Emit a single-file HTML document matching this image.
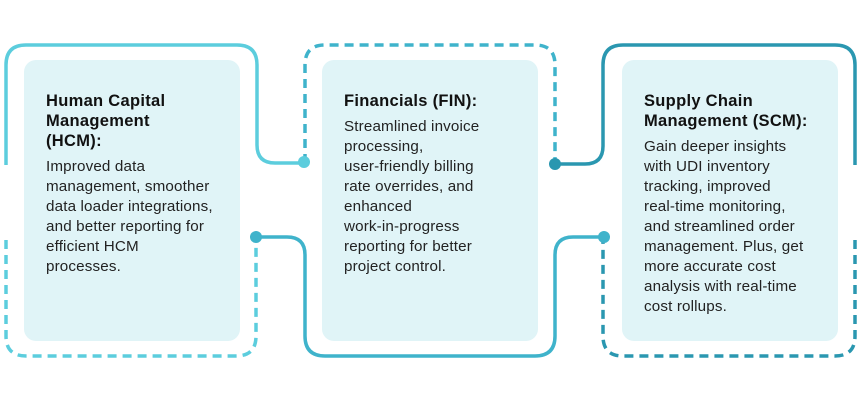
<!DOCTYPE html>
<html><head><meta charset="utf-8"><style>
body{margin:0;width:860px;height:401px;background:#fff;overflow:hidden;position:relative;font-family:"Liberation Sans",sans-serif;}
svg{position:absolute;left:0;top:0}
.box{position:absolute;top:60px;width:216px;height:281px;background:#e0f4f7;border-radius:12px;}
.t{position:absolute;left:22px;top:31px;width:200px;font-size:16.5px;font-weight:bold;line-height:20px;color:#111;white-space:nowrap;letter-spacing:0.3px;}
.b{font-size:15.2px;line-height:20px;font-weight:normal;color:#222;margin-top:6px;letter-spacing:0.15px;}
</style></head><body>
<svg width="860" height="401" fill="none" stroke-width="3.5">
<g stroke="#5ccddd">
<path d="M6 165 V65 Q6 45 26 45 H237 Q257 45 257 65 V145 Q257 163 275 163 H304"/>
<path d="M6 240 V336 Q6 356 26 356 H236 Q256 356 256 336 V237" stroke-dasharray="9 6"/>
</g>
<g stroke="#3fb3cb">
<path d="M305 163 V65 Q305 45 325 45 H535 Q555 45 555 65 V163" stroke-dasharray="9 6"/>
<path d="M256 237 H287 Q305 237 305 255 V336 Q305 356 325 356 H535 Q555 356 555 336 V255 Q555 237 573 237 H604"/>
</g>
<g stroke="#2a97b0">
<path d="M555 164 H585 Q603 164 603 146 V65 Q603 45 623 45 H835 Q855 45 855 65 V165"/>
<path d="M855 240 V336 Q855 356 835 356 H623 Q603 356 603 336 V237" stroke-dasharray="9 6"/>
</g>
<circle cx="304" cy="162" r="6" fill="#5ccddd"/>
<circle cx="256" cy="237" r="6" fill="#3fb3cb"/>
<circle cx="555" cy="164" r="6" fill="#2a97b0"/>
<circle cx="604" cy="237" r="6" fill="#3fb3cb"/>
</svg>
<div class="box" style="left:24px"><div class="t">Human Capital<br>Management<br>(HCM):<div class="b">Improved data<br>management, smoother<br>data loader integrations,<br>and better reporting for<br>efficient HCM<br>processes.</div></div></div>
<div class="box" style="left:322px"><div class="t">Financials (FIN):<div class="b">Streamlined invoice<br>processing,<br>user-friendly billing<br>rate overrides, and<br>enhanced<br>work-in-progress<br>reporting for better<br>project control.</div></div></div>
<div class="box" style="left:622px"><div class="t">Supply Chain<br>Management (SCM):<div class="b">Gain deeper insights<br>with UDI inventory<br>tracking, improved<br>real-time monitoring,<br>and streamlined order<br>management. Plus, get<br>more accurate cost<br>analysis with real-time<br>cost rollups.</div></div></div>
</body></html>
